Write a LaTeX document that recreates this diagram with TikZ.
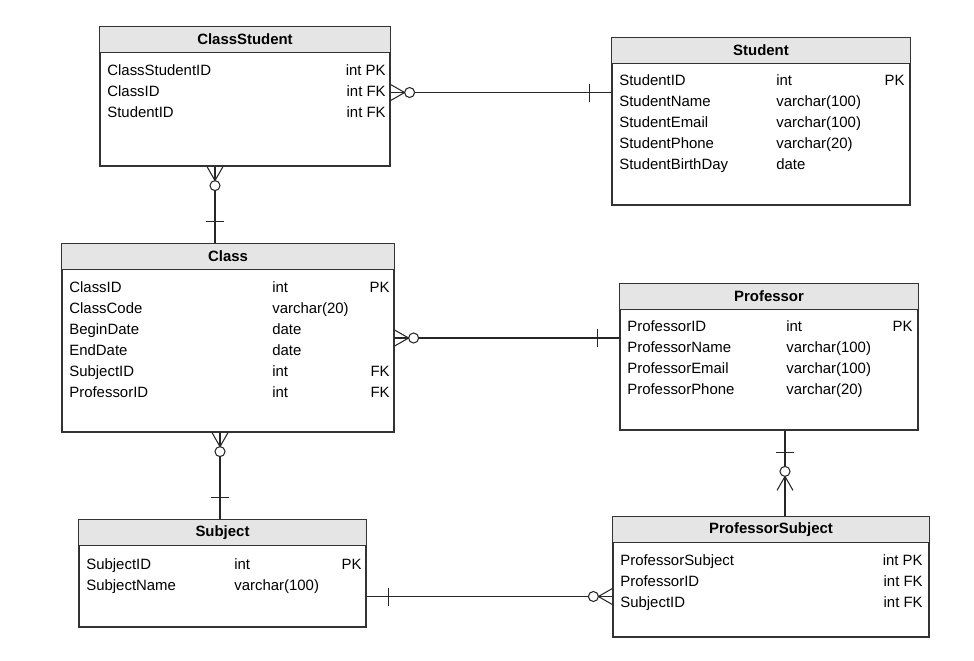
\documentclass[tikz,border=0pt]{standalone}
\usepackage{fontspec}
\setmainfont{Liberation Sans}
\usetikzlibrary{fit,calc}

\tikzset{
  tbl/.style={draw=black!80, line width=0.7pt, inner sep=0pt, fill=white},
  hdr/.style={draw=black!80, line width=0.7pt, fill=black!10},
  ttl/.style={font=\bfseries\fontsize{8.5}{10}\selectfont},
  fld/.style={anchor=base west, font=\fontsize{8.5}{10}\selectfont, inner sep=0pt},
  key/.style={anchor=base east, font=\fontsize{8.5}{10}\selectfont, inner sep=0pt},
  rel/.style={draw=black!85, line width=0.6pt},
  manyopt/.pic={
    \draw[rel] (0,8) -- (14,0) -- (0,-8);
    \draw[rel] (0,0) -- (14,0);
    \draw[rel, fill=white] (19,0) circle [radius=5];
  },
  one/.pic={\draw[rel] (0,-9) -- (0,9);}
}

% table frame with grey title band
\newcommand{\entity}[6]{%
  \node[tbl, fit={(#2,#3) (#4,#5)}] (#1) {};
  \draw[hdr] (#1.north west) rectangle ($(#1.north east)+(0,26)$);
  \node[ttl] (#1-ttl) at ($(#1.north)+(0,13)$) {#6};
}

\begin{document}
\begin{tikzpicture}[x=0.02cm, y=-0.02cm]
  \useasboundingbox (0,0) rectangle (974,660);

  \entity{cs}{100}{27}{390}{166}{ClassStudent}
  \entity{st}{612}{38}{910}{205}{Student}
  \entity{cl}{62}{244}{394}{432}{Class}
  \entity{pr}{620}{284}{918}{430}{Professor}
  \entity{sb}{79}{520}{366}{627}{Subject}
  \entity{ps}{613}{517}{929}{637}{ProfessorSubject}

  % ClassStudent
  \foreach \f/\t [count=\i] in {ClassStudentID/int PK, ClassID/int FK, StudentID/int FK} {
    \node[fld] at (107,54+21*\i) {\f};
    \node[key] at (386,54+21*\i) {\t};
  }

  % Student
  \foreach \f/\t [count=\i] in {StudentID/int, StudentName/varchar(100), StudentEmail/varchar(100),
      StudentPhone/varchar(20), StudentBirthDay/date} {
    \node[fld] at (619,64+21*\i) {\f};
    \node[fld] at (776,64+21*\i) {\t};
  }
  \node[key] at (905,85) {PK};

  % Class
  \foreach \f/\t [count=\i] in {ClassID/int, ClassCode/varchar(20), BeginDate/date,
      EndDate/date, SubjectID/int, ProfessorID/int} {
    \node[fld] at (69,271+21*\i) {\f};
    \node[fld] at (272,271+21*\i) {\t};
  }
  \node[key] at (390,292) {PK};
  \node[key] at (390,376) {FK};
  \node[key] at (390,397) {FK};

  % Professor
  \foreach \f/\t [count=\i] in {ProfessorID/int, ProfessorName/varchar(100),
      ProfessorEmail/varchar(100), ProfessorPhone/varchar(20)} {
    \node[fld] at (627,310+21*\i) {\f};
    \node[fld] at (786,310+21*\i) {\t};
  }
  \node[key] at (913,331) {PK};

  % Subject
  \foreach \f/\t [count=\i] in {SubjectID/int, SubjectName/varchar(100)} {
    \node[fld] at (86,548+21*\i) {\f};
    \node[fld] at (234,548+21*\i) {\t};
  }
  \node[key] at (362,569) {PK};

  % ProfessorSubject
  \foreach \f/\t [count=\i] in {ProfessorSubject/int PK, ProfessorID/int FK, SubjectID/int FK} {
    \node[fld] at (620,544+21*\i) {\f};
    \node[key] at (923,544+21*\i) {\t};
  }

  % relationships
  \coordinate (a1) at ($(cs.east)+(0,-4)$);
  \draw[rel] (a1) -- (a1 -| st.west);
  \pic at (a1) {manyopt};
  \pic at ($(a1 -| st.west)+(-22,0)$) {one};

  \coordinate (a2) at ($(cs.south)+(-30,0)$);
  \draw[rel] (a2) -- (a2 |- cl.north);
  \pic[rotate=-90] at (a2) {manyopt};
  \pic[rotate=-90] at ($(a2 |- cl.north)+(0,-22)$) {one};

  \draw[rel] (cl.east) -- (cl.east -| pr.west);
  \pic at (cl.east) {manyopt};
  \pic at ($(cl.east -| pr.west)+(-22,0)$) {one};

  \coordinate (a4) at ($(cl.south)+(-8,0)$);
  \draw[rel] (a4) -- (a4 |- sb.north);
  \pic[rotate=-90] at (a4) {manyopt};
  \pic[rotate=-90] at ($(a4 |- sb.north)+(0,-22)$) {one};

  \coordinate (a5) at ($(pr.south)+(16,0)$);
  \draw[rel] (a5) -- (a5 |- ps.north);
  \pic[rotate=-90] at ($(a5)+(0,22)$) {one};
  \pic[rotate=90] at ($(a5 |- ps.north)+(0,-26)$) {manyopt};

  \coordinate (a6) at ($(sb.east)+(0,23)$);
  \draw[rel] (a6) -- (a6 -| ps.west);
  \pic at ($(a6)+(22,0)$) {one};
  \pic[rotate=180] at (a6 -| ps.west) {manyopt};
\end{tikzpicture}
\end{document}
